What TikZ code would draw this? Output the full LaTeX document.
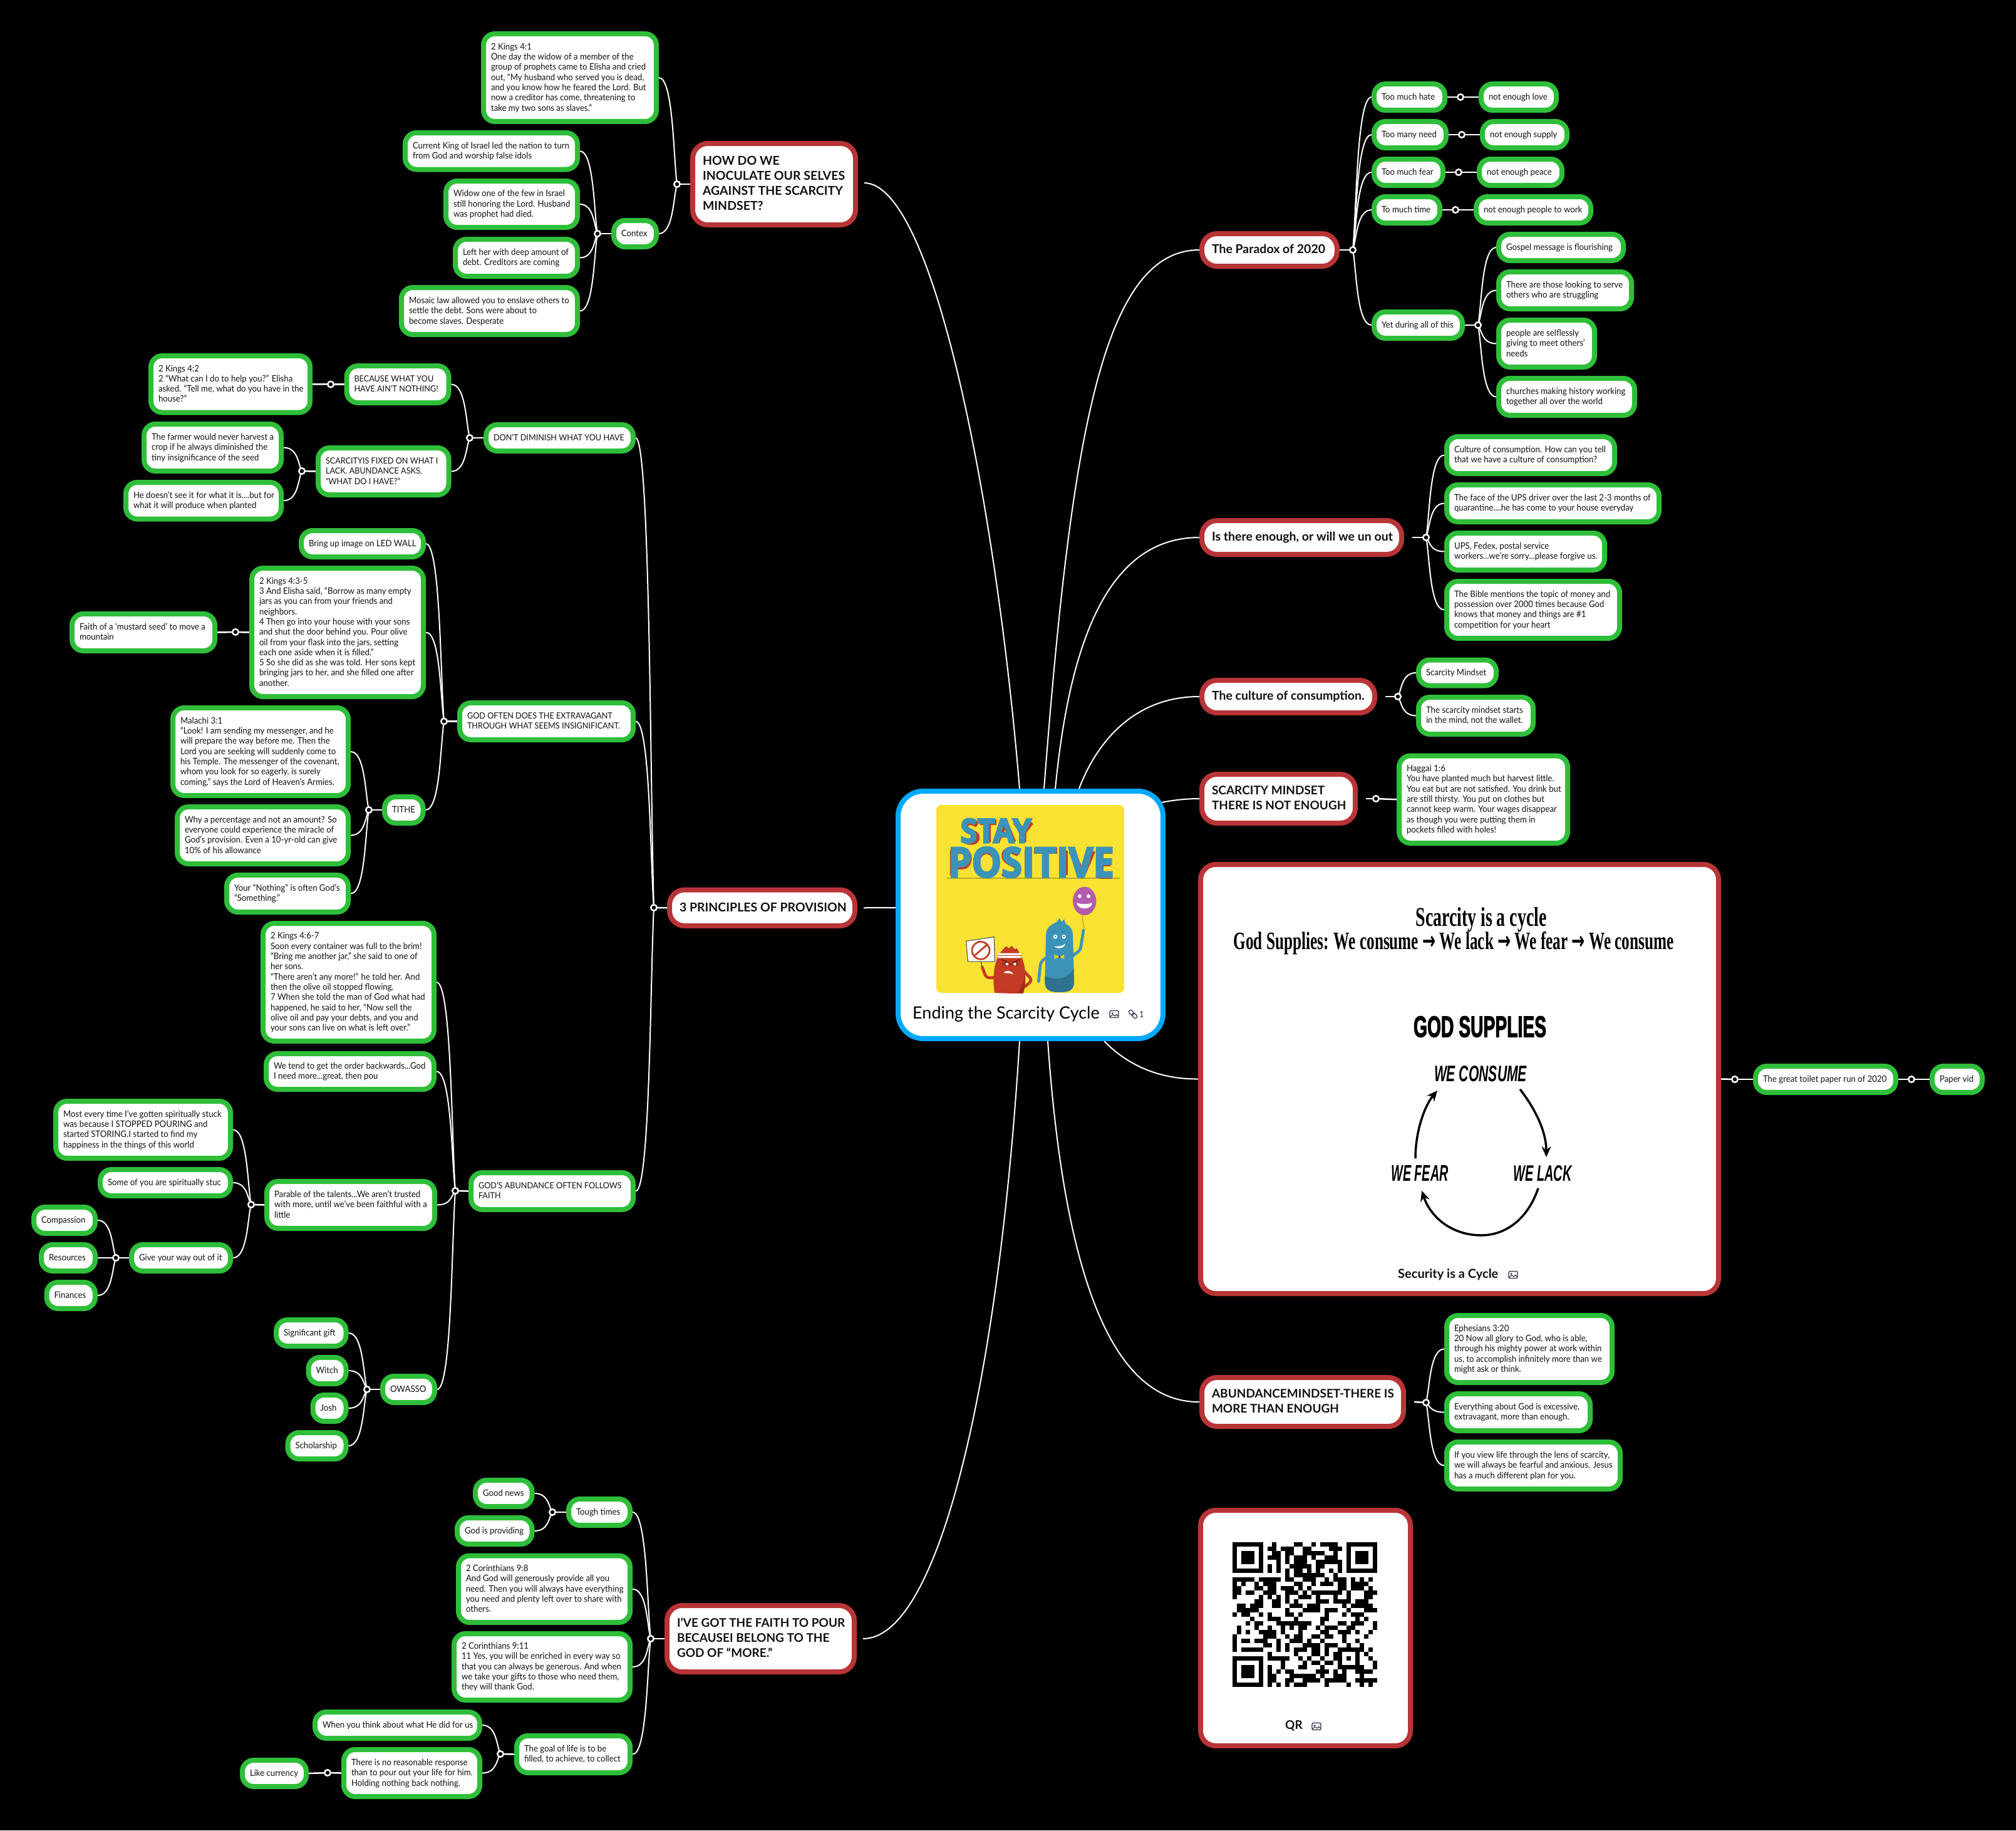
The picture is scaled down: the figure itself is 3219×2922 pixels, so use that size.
\documentclass[tikz,border=0pt]{standalone}
\usepackage{fontspec}
\usepackage{graphicx}
\usepackage{array}
\setmainfont[FakeStretch=0.93,BoldFeatures={FakeStretch=1}]{Lato}
\newfontfamily\wide{Lato}
\newfontfamily\hv[BoldFeatures={FakeBold=4}]{Open Sans}
\newfontfamily\hb[BoldFeatures={FakeBold=3}]{Liberation Sans}
\newfontfamily\tm{Liberation Serif}
\newfontfamily\djv{DejaVu Sans}
\usetikzlibrary{calc,arrows.meta}
\pgfdeclarelayer{bg}
\pgfsetlayers{bg,main}
\definecolor{gborder}{HTML}{2FBE3A}
\definecolor{rborder}{HTML}{B83436}
\definecolor{bborder}{HTML}{00A9FF}
\definecolor{ink}{HTML}{111111}
\definecolor{ylw}{HTML}{F9E231}
\definecolor{tblue}{HTML}{3C93B8}
\definecolor{dblue}{HTML}{2F7391}
\definecolor{mred}{HTML}{C43A24}
\definecolor{dred}{HTML}{A32E1E}
\definecolor{purp}{HTML}{B35CAB}
\definecolor{iconc}{HTML}{2A2F45}
\tikzset{
 gbox/.style={draw=gborder,fill=white,line width=8pt,rounded corners=18pt,inner sep=0pt,text=ink,font=\fontsize{14.2}{16.3}\selectfont},
 gcaps/.style={gbox,font=\fontsize{13.6}{16.3}\selectfont},
 rbox/.style={draw=rborder,fill=white,line width=8pt,rounded corners=24pt,inner sep=0pt,text=ink,font=\fontsize{19.5}{24}\selectfont\bfseries},
 rcaps/.style={rbox,font=\fontsize{19}{24}\selectfont\bfseries},
 cbox/.style={draw=bborder,fill=white,line width=8pt,rounded corners=40pt,inner sep=0pt},
 hub/.style={circle,draw=white,fill=black,line width=2.5pt,minimum size=9.5pt,inner sep=0pt},
 lnk/.style={draw=white,line width=2pt},
 stub/.style={draw=white,line width=2.5pt},
 lbl/.style={inner sep=0pt,text=black},
 cyc/.style={draw=black,line width=3.5pt,-{Stealth[length=17pt,width=15pt]}},
}
\newcommand\nd[8]{%
 \pgfmathsetmacro\cxx{(#4+#6)/2}\pgfmathsetmacro\cyy{(#5+#7)/2}%
 \pgfmathsetmacro\bww{#6-#4-8}\pgfmathsetmacro\bhh{#7-#5-8}\pgfmathsetmacro\tww{#6-#4-2*#2}%
 \node[#1,minimum width=\bww pt,minimum height=\bhh pt] (#3) at (\cxx,\cyy) {\vbox{\kern2pt\hbox to \tww pt{\begin{tabular}[c]{@{}l@{}}#8\end{tabular}\hss}}};}
\newcommand\gn[6]{\nd{gbox}{16}{#1}{#2}{#3}{#4}{#5}{#6}}
\newcommand\gc[6]{\nd{gcaps}{16}{#1}{#2}{#3}{#4}{#5}{#6}}
\newcommand\rd[6]{\nd{rbox}{20}{#1}{#2}{#3}{#4}{#5}{#6}}
\newcommand\rc[6]{\nd{rcaps}{20}{#1}{#2}{#3}{#4}{#5}{#6}}
\newcommand\hh[3]{\node[hub] (#1) at (#2,#3) {};}
\newcommand\lk[3]{\draw[lnk] let \p1=(#2.#1),\p2=(#3.center) in (\p1) .. controls ({\x1+0.8*(\x2-\x1)},\y1) and ({\x1+0.8*(\x2-\x1)},{\y2+0.25*(\y1-\y2)}) .. (\p2);}
\newcommand\st[3]{\draw[stub] (#1.#2) -- (#3.center);}
\newcommand\imgicon[2]{\begin{scope}[shift={(#1,#2)}]
 \draw[iconc,line width=1.3pt,rounded corners=2pt] (-7,-5.5) rectangle (7,5.5);
 \fill[iconc] (-3,-1.5) circle (1.5);
 \draw[iconc,line width=1.1pt] (-6.5,4) -- (-2,0.5) -- (1,3) -- (3.5,0.5) -- (6.5,3);
 \end{scope}}
\begin{document}
\begin{tikzpicture}[x=1pt,y=-1pt]
\useasboundingbox (0,0) rectangle (3219,2922);
\begin{pgfonlayer}{bg}
\fill[black] (0,0) rectangle (3219,2922);
\end{pgfonlayer}
% centre
\nd{cbox}{16}{c}{1430}{1259}{1861}{1662}{}
% top-left branch
\rd{how}{1102}{225}{1370}{363}{HOW DO WE\\INOCULATE OUR SELVES\\AGAINST THE SCARCITY\\MINDSET?}
\gn{k41}{768}{50}{1052}{198}{2 Kings 4:1\\One day the widow of a member of the\\group of prophets came to Elisha and cried\\out, “My husband who served you is dead,\\and you know how he feared the Lord. But\\now a creditor has come, threatening to\\take my two sons as slaves.”}
\gn{contex}{976}{348}{1052}{398}{Contex}
\gn{curk}{643}{208}{926}{274.5}{Current King of Israel led the nation to turn\\from God and worship false idols}
\gn{wid}{708}{285}{926}{367}{Widow one of the few in Israel\\still honoring the Lord. Husband\\was prophet had died.}
\gn{lefth}{723}{378}{926}{445}{Left her with deep amount of\\debt.  Creditors are coming}
\gn{mos}{637}{455}{926}{538}{Mosaic law allowed you to enslave others to\\settle the debt.  Sons were about to\\become slaves.  Desperate}
\hh{hhow}{1081}{294}\hh{hcon}{954}{373}
% 3 principles
\rd{tp}{1065}{1416.5}{1369}{1482}{3 PRINCIPLES OF PROVISION}
\hh{htp}{1044}{1449}
\gc{dont}{772}{674}{1015}{724}{DON’T DIMINISH WHAT YOU HAVE}
\hh{hdont}{750}{699}
\gc{bec}{549.5}{580}{720.5}{647}{BECAUSE WHAT YOU\\HAVE AIN’T NOTHING!}
\hh{hbec}{528}{613.5}
\gn{k42}{237}{564}{499}{662.5}{2 Kings 4:2\\2 “What can I do to help you?” Elisha\\asked. “Tell me, what do you have in the\\house?”}
\gc{scfix}{504}{711}{720.5}{794}{SCARCITYIS FIXED ON WHAT I\\LACK. ABUNDANCE ASKS,\\“WHAT DO I HAVE?”}
\hh{hscfix}{482}{752}
\gn{farm}{226}{673}{453}{756}{The farmer would never harvest a\\crop if he always diminished the\\tiny insignificance of the seed}
\gn{hedo}{197}{766}{453}{832.5}{He doesn’t see it for what it is....but for\\what it will produce when planted}
\gc{often}{730}{1118}{1015}{1185}{GOD OFTEN DOES THE EXTRAVAGANT\\THROUGH WHAT SEEMS INSIGNIFICANT.}
\hh{hoften}{709}{1151.5}
\gn{bring}{477}{843}{680}{893}{Bring up image on LED WALL}
\gn{k43}{398}{903}{680}{1116}{2 Kings 4:3-5\\3 And Elisha said, “Borrow as many empty\\jars as you can from your friends and\\neighbors.\\4 Then go into your house with your sons\\and shut the door behind you. Pour olive\\oil from your flask into the jars, setting\\each one aside when it is filled.”\\5 So she did as she was told. Her sons kept\\bringing jars to her, and she filled one after\\another.}
\hh{hk43}{376}{1009}
\gn{faith}{111}{976}{347}{1043}{Faith of a ‘mustard seed’ to move a\\mountain}
\gn{tithe}{610}{1268}{679.5}{1318}{TITHE}
\hh{htithe}{589}{1293}
\gn{mal}{272}{1126}{560}{1274}{Malachi 3:1\\“Look! I am sending my messenger, and he\\will prepare the way before me. Then the\\Lord you are seeking will suddenly come to\\his Temple. The messenger of the covenant,\\whom you look for so eagerly, is surely\\coming,” says the Lord of Heaven’s Armies.}
\gn{why}{279}{1284}{560}{1383}{Why a percentage and not an amount?  So\\everyone could experience the miracle of\\God’s provision.  Even a 10-yr-old can give\\10\% of his allowance}
\gn{your}{358}{1393}{560}{1460}{Your “Nothing” is often God’s\\“Something.”}
\gc{gab}{748}{1868}{1015}{1935}{GOD’S ABUNDANCE OFTEN FOLLOWS\\FAITH}
\hh{hgab}{727}{1901}
\gn{k46}{416}{1470}{697}{1666}{2 Kings 4:6-7\\Soon every container was full to the brim!\\“Bring me another jar,” she said to one of\\her sons.\\“There aren’t any more!” he told her. And\\then the olive oil stopped flowing.\\7 When she told the man of God what had\\happened, he said to her, “Now sell the\\olive oil and pay your debts, and you and\\your sons can live on what is left over.”}
\gn{wetend}{421}{1678}{697}{1743}{We tend to get the order backwards...God\\I need more...great, then pou}
\gn{para}{422}{1882}{698}{1965}{Parable of the talents...We aren’t trusted\\with more, until we’ve been faithful with a\\little}
\hh{hpara}{401}{1923}
\gn{most}{85}{1754}{372}{1853}{Most every time I’ve gotten spiritually stuck\\was because I STOPPED POURING and\\started STORING.I started to find my\\happiness in the things of this world}
\gn{some}{156}{1863}{372}{1913}{Some of you are spiritually stuc}
\gn{give}{206}{1983}{372}{2033}{Give your way out of it}
\hh{hgive}{185}{2008}
\gn{comp}{50}{1923}{156}{1973}{Compassion}
\gn{res}{62}{1983}{156}{2033}{Resources}
\gn{fin}{70.5}{2043}{156}{2093}{Finances}
\gn{owa}{607}{2193}{698}{2243}{OWASSO}
\hh{howa}{586}{2218}
\gn{sig}{437}{2103}{556.5}{2153}{Significant gift}
\gn{witch}{488.5}{2163}{556.5}{2213}{Witch}
\gn{josh}{495.5}{2223}{556.5}{2273}{Josh}
\gn{schol}{455.5}{2283}{556.5}{2333}{Scholarship}
% I've got the faith
\rc{ive}{1061}{2559}{1368}{2673}{I’VE GOT THE FAITH TO POUR\\BECAUSEI BELONG TO THE\\GOD OF “MORE.”}
\hh{hive}{1039}{2616}
\gn{tough}{904}{2389}{1010}{2439}{Tough times}
\hh{htough}{882}{2414}
\gn{good}{755}{2359}{853.5}{2409}{Good news}
\gn{godis}{726}{2419}{853.5}{2469}{God is providing}
\gn{cor8}{728}{2479.5}{1010}{2594}{2 Corinthians 9:8\\And God will generously provide all you\\need. Then you will always have everything\\you need and plenty left over to share with\\others.}
\gn{cor11}{721}{2604}{1010}{2718}{2 Corinthians 9:11\\11 Yes, you will be enriched in every way so\\that you can always be generous. And when\\we take your gifts to those who need them,\\they will thank God.}
\gn{goal}{821}{2767}{1010}{2834}{The goal of life is to be\\filled, to achieve, to collect}
\hh{hgoal}{799}{2800}
\gn{when}{499}{2729}{770}{2779}{When you think about what He did for us}
\gn{noreas}{545}{2789}{770}{2872}{There is no reasonable response\\than to pour out your life for him.\\Holding nothing back nothing.}
\hh{hnoreas}{523}{2830}
\gn{like}{383}{2806}{493}{2856}{Like currency}
% right side
\rd{par}{1915}{369}{2139}{429}{The Paradox of 2020}
\hh{hpar}{2160}{399}
\gn{a1}{2190}{130}{2311}{180}{Too much hate}\hh{ha1}{2332}{155}\gn{b1}{2361}{130}{2489}{180}{not enough love}
\gn{a2}{2190}{190}{2313}{240}{Too many need}\hh{ha2}{2334}{215}\gn{b2}{2363}{190}{2506}{240}{not enough supply}
\gn{a3}{2190}{250}{2308}{300}{Too much fear}\hh{ha3}{2329}{275}\gn{b3}{2358}{250}{2498}{300}{not enough peace}
\gn{a4}{2190}{310}{2303}{360}{To much time}\hh{ha4}{2324}{335}\gn{b4}{2353}{310}{2544}{360}{not enough people to work}
\gn{yet}{2190}{494}{2339}{544}{Yet during all of this}
\hh{hyet}{2360}{519}
\gn{gosp}{2389}{370}{2596}{420}{Gospel message is flourishing}
\gn{those}{2389}{430}{2609}{497}{There are those looking to serve\\others who are struggling}
\gn{selfl}{2389}{507}{2550}{590}{people are selflessly\\giving to meet others’\\needs}
\gn{church}{2389}{600}{2614}{667}{churches making history working\\together all over the world}
\rd{isth}{1915}{827}{2242}{889}{Is there enough, or will we un out}
\hh{histh}{2277}{858}
\gn{cul}{2306}{693}{2582}{760}{Culture of consumption. How can you tell\\that we have a culture of consumption?}
\gn{face}{2306}{770}{2653}{837}{The face of the UPS driver over the last 2-3 months of\\quarantine....he has come to your house everyday}
\gn{ups}{2306}{847}{2566}{914}{UPS, Fedex, postal service\\workers...we’re sorry...please forgive us.}
\gn{bible}{2306}{924}{2590}{1023}{The Bible mentions the topic of money and\\possession over 2000 times because God\\knows that money and things are \#1\\competition for your heart}
\rd{cult}{1915}{1082}{2199}{1142}{The culture of consumption.}
\hh{hcult}{2232}{1112}
\gn{scm}{2261}{1049.5}{2393}{1098.5}{Scarcity Mindset}
\gn{scst}{2261}{1109}{2452}{1176}{The scarcity mindset starts\\in the mind, not the wallet.}
\rc{smind}{1915}{1232}{2168}{1318}{SCARCITY MINDSET\\THERE IS NOT ENOUGH}
\hh{hsmind}{2197}{1275}
\gn{hag}{2230}{1202.5}{2507}{1350}{Haggai 1:6\\You have planted much but harvest little.\\You eat but are not satisfied. You drink but\\are still thirsty. You put on clothes but\\cannot keep warm. Your wages disappear\\as though you were putting them in\\pockets filled with holes!}
\nd{rbox}{22}{sec}{1913}{1376}{2748}{2069}{}
\hh{hsec}{2770}{1723}
\gn{toil}{2799}{1698}{3031}{1748}{The great toilet paper run of 2020}
\hh{htoil}{3052}{1723}
\gn{pap}{3081}{1698}{3169}{1748}{Paper vid}
\rc{abun}{1915}{2195}{2245}{2281}{ABUNDANCEMINDSET-THERE IS\\MORE THAN ENOUGH}
\hh{habun}{2277}{2239}
\gn{eph}{2306}{2096}{2578}{2211}{Ephesians 3:20\\20 Now all glory to God, who is able,\\through his mighty power at work within\\us, to accomplish infinitely more than we\\might ask or think.}
\gn{every}{2306}{2221}{2543}{2288}{Everything about God is excessive,\\extravagant, more than enough.}
\gn{ifyou}{2306}{2298}{2591}{2381}{If you view life through the lens of scarcity,\\we will always be fearful and anxious. Jesus\\has a much different plan for you.}
\nd{rbox}{22}{qr}{1913}{2407}{2256}{2791}{}
% connectors
\begin{pgfonlayer}{bg}
\draw[lnk] ([shift={(10,-2)}]how.east) .. controls (1490,293) and (1590,800) .. ([xshift=-17.5pt]c.north);
\draw[lnk] (par.west) .. controls (1760,399) and (1710,700) .. ([xshift=21.5pt]c.north);
\draw[lnk] (isth.west) .. controls (1780,858) and (1710,1000) .. ([xshift=39.5pt]c.north);
\draw[lnk] (cult.west) .. controls (1800,1112) and (1745,1200) .. ([xshift=77.5pt]c.north);
\draw[lnk] (smind.west) .. controls (1895,1275) and (1875,1277) .. ([shift={(-6,22)}]c.north east);
\draw[lnk] ([xshift=10pt]tp.east) -- ([yshift=11.5pt]c.west);
\draw[lnk] ([xshift=10pt]ive.east) .. controls (1500,2616) and (1595,2200) .. ([xshift=-17.5pt]c.south);
\draw[lnk] (abun.west) .. controls (1780,2239) and (1700,2050) .. ([xshift=27.5pt]c.south);
\draw[lnk] (sec.west) .. controls (1850,1723) and (1800,1700) .. ([xshift=117.5pt]c.south);
\st{how}{west}{hhow}\lk{east}{k41}{hhow}\lk{east}{contex}{hhow}
\st{contex}{west}{hcon}\lk{east}{curk}{hcon}\lk{east}{wid}{hcon}\lk{east}{lefth}{hcon}\lk{east}{mos}{hcon}
\st{tp}{west}{htp}\lk{east}{dont}{htp}\lk{east}{often}{htp}\lk{east}{gab}{htp}
\st{dont}{west}{hdont}\lk{east}{bec}{hdont}\lk{east}{scfix}{hdont}
\st{bec}{west}{hbec}\st{k42}{east}{hbec}
\st{scfix}{west}{hscfix}\lk{east}{farm}{hscfix}\lk{east}{hedo}{hscfix}
\st{often}{west}{hoften}\lk{east}{bring}{hoften}\lk{east}{k43}{hoften}\lk{east}{tithe}{hoften}
\st{k43}{west}{hk43}\st{faith}{east}{hk43}
\st{tithe}{west}{htithe}\lk{east}{mal}{htithe}\lk{east}{why}{htithe}\lk{east}{your}{htithe}
\st{gab}{west}{hgab}\lk{east}{k46}{hgab}\lk{east}{wetend}{hgab}\lk{east}{para}{hgab}\lk{east}{owa}{hgab}
\st{para}{west}{hpara}\lk{east}{most}{hpara}\lk{east}{some}{hpara}\lk{east}{give}{hpara}
\st{give}{west}{hgive}\lk{east}{comp}{hgive}\lk{east}{res}{hgive}\lk{east}{fin}{hgive}
\st{owa}{west}{howa}\lk{east}{sig}{howa}\lk{east}{witch}{howa}\lk{east}{josh}{howa}\lk{east}{schol}{howa}
\st{ive}{west}{hive}\lk{east}{tough}{hive}\lk{east}{cor8}{hive}\lk{east}{cor11}{hive}\lk{east}{goal}{hive}
\st{tough}{west}{htough}\lk{east}{good}{htough}\lk{east}{godis}{htough}
\st{goal}{west}{hgoal}\lk{east}{when}{hgoal}\lk{east}{noreas}{hgoal}
\st{noreas}{west}{hnoreas}\st{like}{east}{hnoreas}
\st{par}{east}{hpar}\lk{west}{a1}{hpar}\lk{west}{a2}{hpar}\lk{west}{a3}{hpar}\lk{west}{a4}{hpar}\lk{west}{yet}{hpar}
\st{a1}{east}{ha1}\st{b1}{west}{ha1}\st{a2}{east}{ha2}\st{b2}{west}{ha2}\st{a3}{east}{ha3}\st{b3}{west}{ha3}\st{a4}{east}{ha4}\st{b4}{west}{ha4}
\st{yet}{east}{hyet}\lk{west}{gosp}{hyet}\lk{west}{those}{hyet}\lk{west}{selfl}{hyet}\lk{west}{church}{hyet}
\draw[stub] ([xshift=13pt]isth.east) -- (histh.center);\lk{west}{cul}{histh}\lk{west}{face}{histh}\lk{west}{ups}{histh}\lk{west}{bible}{histh}
\draw[stub] ([xshift=13pt]cult.east) -- (hcult.center);\lk{west}{scm}{hcult}\lk{west}{scst}{hcult}
\draw[stub] ([xshift=13pt]smind.east) -- (hsmind.center);\st{hag}{west}{hsmind}
\st{sec}{east}{hsec}\st{toil}{west}{hsec}\st{toil}{east}{htoil}\st{pap}{west}{htoil}
\draw[stub] ([xshift=13pt]abun.east) -- (habun.center);\lk{west}{eph}{habun}\lk{west}{every}{habun}\lk{west}{ifyou}{habun}
\end{pgfonlayer}
% centre content
\node[lbl,anchor=west,font=\wide\fontsize{27}{30}\selectfont] (ctitle) at (1457,1619) {Ending the Scarcity Cycle};
\imgicon{1779}{1619}
\begin{scope}[shift={(1809,1619)},rotate=-45]
 \draw[iconc,line width=1.2pt,rounded corners=2.5pt] (-8,-2.8) rectangle (1,2.8);
 \draw[iconc,line width=1.2pt,rounded corners=2.5pt] (-1,-2.8) rectangle (8,2.8);
\end{scope}
\node[lbl,font=\fontsize{14}{16}\selectfont,text=iconc] (cnum) at (1823,1619) {1};
\begin{scope}[shift={(1400,1240)},x=0.33333pt,y=-0.33333pt]
 \fill[ylw,rounded corners=8pt] (285,135) rectangle (1185,1035);
 \fill[black!25!ylw] (335,482) rectangle (1165,490);
 % shadow of the lettering
 \begin{scope}[shift={(4,3)},draw=mred,line join=round]
  \draw[line width=9pt] (478,228) .. controls (450,205) and (415,215) .. (420,240) .. controls (425,262) and (472,262) .. (475,285) .. controls (478,315) and (435,315) .. (410,298);
  \draw[line width=9pt] (490,214) -- (568,214) (529,214) -- (529,311);
  \draw[line width=9pt] (570,311) -- (610,214) -- (650,311) (585,275) -- (635,275);
  \draw[line width=9pt] (660,214) -- (698,262) -- (735,214) (698,262) -- (698,311);
  \draw[line width=10.5pt] (362,469) -- (362,351) -- (405,351) .. controls (445,351) and (445,425) .. (405,425) -- (362,425);
  \draw[line width=10.5pt] (522,410) ellipse [x radius=48,y radius=58];
  \draw[line width=10.5pt] (675,365) .. controls (640,340) and (605,350) .. (610,380) .. controls (615,410) and (670,410) .. (672,440) .. controls (672,475) and (630,475) .. (600,455);
  \draw[line width=10.5pt] (720,351) -- (720,469);
  \draw[line width=10.5pt] (750,351) -- (860,351) (805,351) -- (805,469);
  \draw[line width=10.5pt] (895,351) -- (895,469);
  \draw[line width=10.5pt] (930,351) -- (978,469) -- (1028,351);
  \draw[line width=10.5pt] (1125,351) -- (1065,351) -- (1065,469) -- (1125,469) (1065,410) -- (1115,410);
 \end{scope}
 \node[lbl,anchor=north west,text=tblue] (stay1) at (399,199) {\resizebox{114pt}{39pt}{\hv\bfseries STAY}};
 \node[lbl,anchor=north west,text=tblue] (pos1) at (341,336) {\resizebox{265pt}{48pt}{\hv\bfseries POSITIVE}};
 \begin{scope}
  \clip (285,135) rectangle (1185,1035);
  % balloon
  \fill[purp] (995,595) ellipse [x radius=56,y radius=68];
  \fill[white] (972,572) circle (9) (1014,572) circle (9);
  \fill[white] (958,603) .. controls (975,612) and (1015,612) .. (1032,603) .. controls (1030,640) and (960,640) .. (958,603) -- cycle;
  \draw[mred,line width=0.5pt] (985,665) .. controls (980,690) and (995,700) .. (990,732);
  % blue monster
  \draw[tblue,line width=4.6pt,line cap=round,rounded corners=5pt] (935,860) -- (975,830) -- (990,735);
  \draw[tblue,line width=4.6pt,line cap=round,rounded corners=6pt] (815,865) -- (785,885) -- (775,980);
  \fill[tblue] (810,760) .. controls (810,710) and (850,705) .. (862,695) -- (875,678) -- (885,695) -- (898,683) -- (905,705) .. controls (930,715) and (940,735) .. (940,770) -- (945,980) .. controls (945,1020) and (925,1032) .. (875,1032) .. controls (825,1032) and (805,1020) .. (805,980) -- cycle;
  \fill[dblue] (805,955) .. controls (860,975) and (920,970) .. (943,915) -- (945,980) .. controls (945,1020) and (925,1032) .. (875,1032) .. controls (825,1032) and (805,1020) .. (805,980) -- cycle;
  \fill[white] (855,766) circle (10) (896,766) circle (10);
  \fill[dblue] (855,766) circle (4) (896,766) circle (4);
  \draw[dblue,line width=0.8pt] (838,750) .. controls (845,738) and (860,738) .. (866,745) (885,745) .. controls (895,738) and (905,738) .. (912,750);
  \fill[white] (850,812) .. controls (870,815) and (890,810) .. (903,800) .. controls (900,822) and (865,828) .. (850,812) -- cycle;
  \fill[ylw!90!black] (850,852) -- (875,860) -- (898,852) -- (898,873) -- (875,864) -- (850,873) -- cycle;
  \fill[dblue!60!black] (875,862) circle (5);
  % red monster
  \draw[mred,line width=4.6pt,line cap=round,rounded corners=6pt] (570,960) -- (525,965) -- (505,912);
  \draw[mred,line width=4.6pt,line cap=round,rounded corners=6pt] (700,925) -- (745,975) -- (710,1005);
  \fill[mred] (565,1035) .. controls (550,960) and (565,880) .. (590,845) -- (610,820) -- (622,812) -- (632,822) -- (648,810) -- (658,825) -- (672,822) -- (685,850) .. controls (720,900) and (715,990) .. (700,1040) -- cycle;
  \fill[dred] (670,1040) .. controls (700,1000) and (712,960) .. (707,930) .. controls (715,970) and (712,1010) .. (700,1040) -- cycle;
  \fill[white] (583,845) -- (688,845) -- (692,868) -- (580,868) -- cycle;
  \draw[mred,line width=1pt] (580,856) -- (692,856);
  \fill[dred] (622,897) ellipse [x radius=20,y radius=10] (660,897) ellipse [x radius=20,y radius=10];
  \fill[white] (624,897) circle (7) (661,897) circle (7);
  \draw[black!70!mred,line width=1pt] (597,875) -- (630,890) (685,875) -- (652,890);
  \fill[white] (606,940) .. controls (620,925) and (640,925) .. (655,946) .. controls (640,940) and (620,940) .. (606,940) -- cycle;
  % sign
  \draw[black!70,line width=1.3pt] (500,885) -- (503,910);
  \fill[white,draw=black!60,line width=1.3pt] (428,787) -- (562,767) -- (565,885) -- (436,885) -- cycle;
  \draw[mred,line width=2.7pt] (498,832) circle (42);
  \draw[mred,line width=2.7pt] (470,855) -- (527,805);
 \end{scope}
\end{scope}
% Security cycle picture
\node[lbl,font=\tm\bfseries] (sc1) at (2365,1468) {\resizebox{209pt}{30pt}{Scarcity is a cycle}};
\node[lbl,font=\tm\bfseries] (sc2) at (2321,1506) {\resizebox{703pt}{28pt}{God Supplies: We consume {\djv\bfseries →} We lack {\djv\bfseries →} We fear {\djv\bfseries →} We consume}};
\node[lbl] (gs) at (2363,1639) {\resizebox{212pt}{33pt}{\hb\bfseries GOD SUPPLIES}};
\node[lbl] (wc) at (2364,1714) {\resizebox{148pt}{25pt}{\hb\bfseries\itshape WE CONSUME}};
\node[lbl] (wf) at (2267,1873) {\resizebox{91pt}{25pt}{\hb\bfseries\itshape WE FEAR}};
\node[lbl] (wl) at (2463,1873) {\resizebox{93pt}{25pt}{\hb\bfseries\itshape WE LACK}};
\draw[cyc] ([shift={(63,12)}]wc.south) .. controls (2455,1775) and (2469,1810) .. ([shift={(6,-13)}]wl.north);
\draw[cyc] ([shift={(-7,11)}]wl.south) .. controls (2440,1945) and (2405,1972) .. (2365,1972) .. controls (2320,1972) and (2285,1945) .. ([shift={(3,15)}]wf.south);
\draw[cyc] ([shift={(-7,-11)}]wf.north) .. controls (2260,1805) and (2275,1765) .. ([shift={(-69,14)}]wc.south);
\node[lbl,font=\fontsize{20}{24}\selectfont\bfseries,anchor=west,text=ink] (sect) at (2232,2035) {Security is a Cycle};
\imgicon{2416}{2035}
% QR
\def\qrx{1968}\def\qry{2462}
\foreach \fc/\fr in {0/0,26/0,0/26}{
 \fill[black] ({\qrx+7*\fc},{\qry+7*\fr}) rectangle ++(49,49);
 \fill[white] ({\qrx+7*\fc+7},{\qry+7*\fr+7}) rectangle ++(35,35);
 \fill[black] ({\qrx+7*\fc+14},{\qry+7*\fr+14}) rectangle ++(21,21);
}
\foreach \r/\cl in {
0/{9,14,15,18,20,21,22,23},
1/{8,9,11,12,13,16,17,22,23,24},
2/{9,10,12,13,16,17,18,19,20,23},
3/{8,9,10,12,14,15,16,18,21,22,23},
4/{10,12,14,15,16,19,20,21,22,23,24},
5/{8,10,13,14,15,16,17,19,20,24},
6/{8,10,12,14,15,17,19,22,24},
7/{12,14,15,16,17,18,19,20,23},
8/{0,1,2,3,4,6,7,8,9,10,12,13,16,17,18,21,23,24,25,27,29,31},
9/{0,2,5,7,8,9,14,15,18,20,21,22,24,25,27,28,29,30},
10/{0,1,5,6,8,9,11,12,13,15,17,24,25,27,28,29,31},
11/{0,1,3,4,7,8,9,12,13,14,16,18,19,20,21,22,23,24,26,30,31,32},
12/{0,6,8,10,12,15,16,17,19,23,26,30,31},
13/{5,6,9,10,12,14,19,20,21,23,24,25,26,28,29,30},
14/{1,2,4,5,6,9,10,13,14,15,17,18,19,25,27,28,29,30,31},
15/{1,2,3,4,5,12,16,17,18,19,21,22,23,26,30,31,32},
16/{0,2,3,6,8,12,13,15,21,25,27,28,29},
17/{4,8,9,10,14,20,21,28,30},
18/{3,5,6,10,11,12,13,14,15,16,17,20,24,25,27,28,29,32},
19/{1,5,8,11,13,15,16,19,21,22,23,26,27,32},
20/{1,3,6,7,8,9,11,15,20,21,24,25,26,28,31},
21/{0,7,8,9,12,14,15,18,19,21,22,25,30},
22/{0,2,3,5,6,7,10,13,14,15,17,20,25,28},
23/{0,7,8,10,12,16,17,18,19,21,22,23,26,29},
24/{0,2,3,4,5,6,10,12,14,15,16,18,19,21,24,25,26,27,28,29,31},
25/{8,14,18,19,21,23,24,28,30},
26/{8,9,10,11,12,15,17,20,23,24,26,28,31},
27/{11,16,18,19,21,22,24,28,32},
28/{8,11,15,16,20,24,25,26,27,28,29,32},
29/{8,10,12,13,19,20,21,23,25,28,29,30,31},
30/{8,9,13,14,15,16,17,18,20,23,24,25,29},
31/{8,9,12,13,16,17,18,19,21,22,23,24,25,28,29,30,31,32},
32/{8,10,12,14,15,16,21,26,29,31}}{
 \foreach \c in \cl {\fill[black] ({\qrx+7*\c},{\qry+7*\r}) rectangle ++(7.05,7.05);}
}
\node[lbl,font=\fontsize{19}{22}\selectfont\bfseries,text=ink] (qrt) at (2066,2755) {QR};
\imgicon{2102}{2756}
\end{tikzpicture}
\end{document}
